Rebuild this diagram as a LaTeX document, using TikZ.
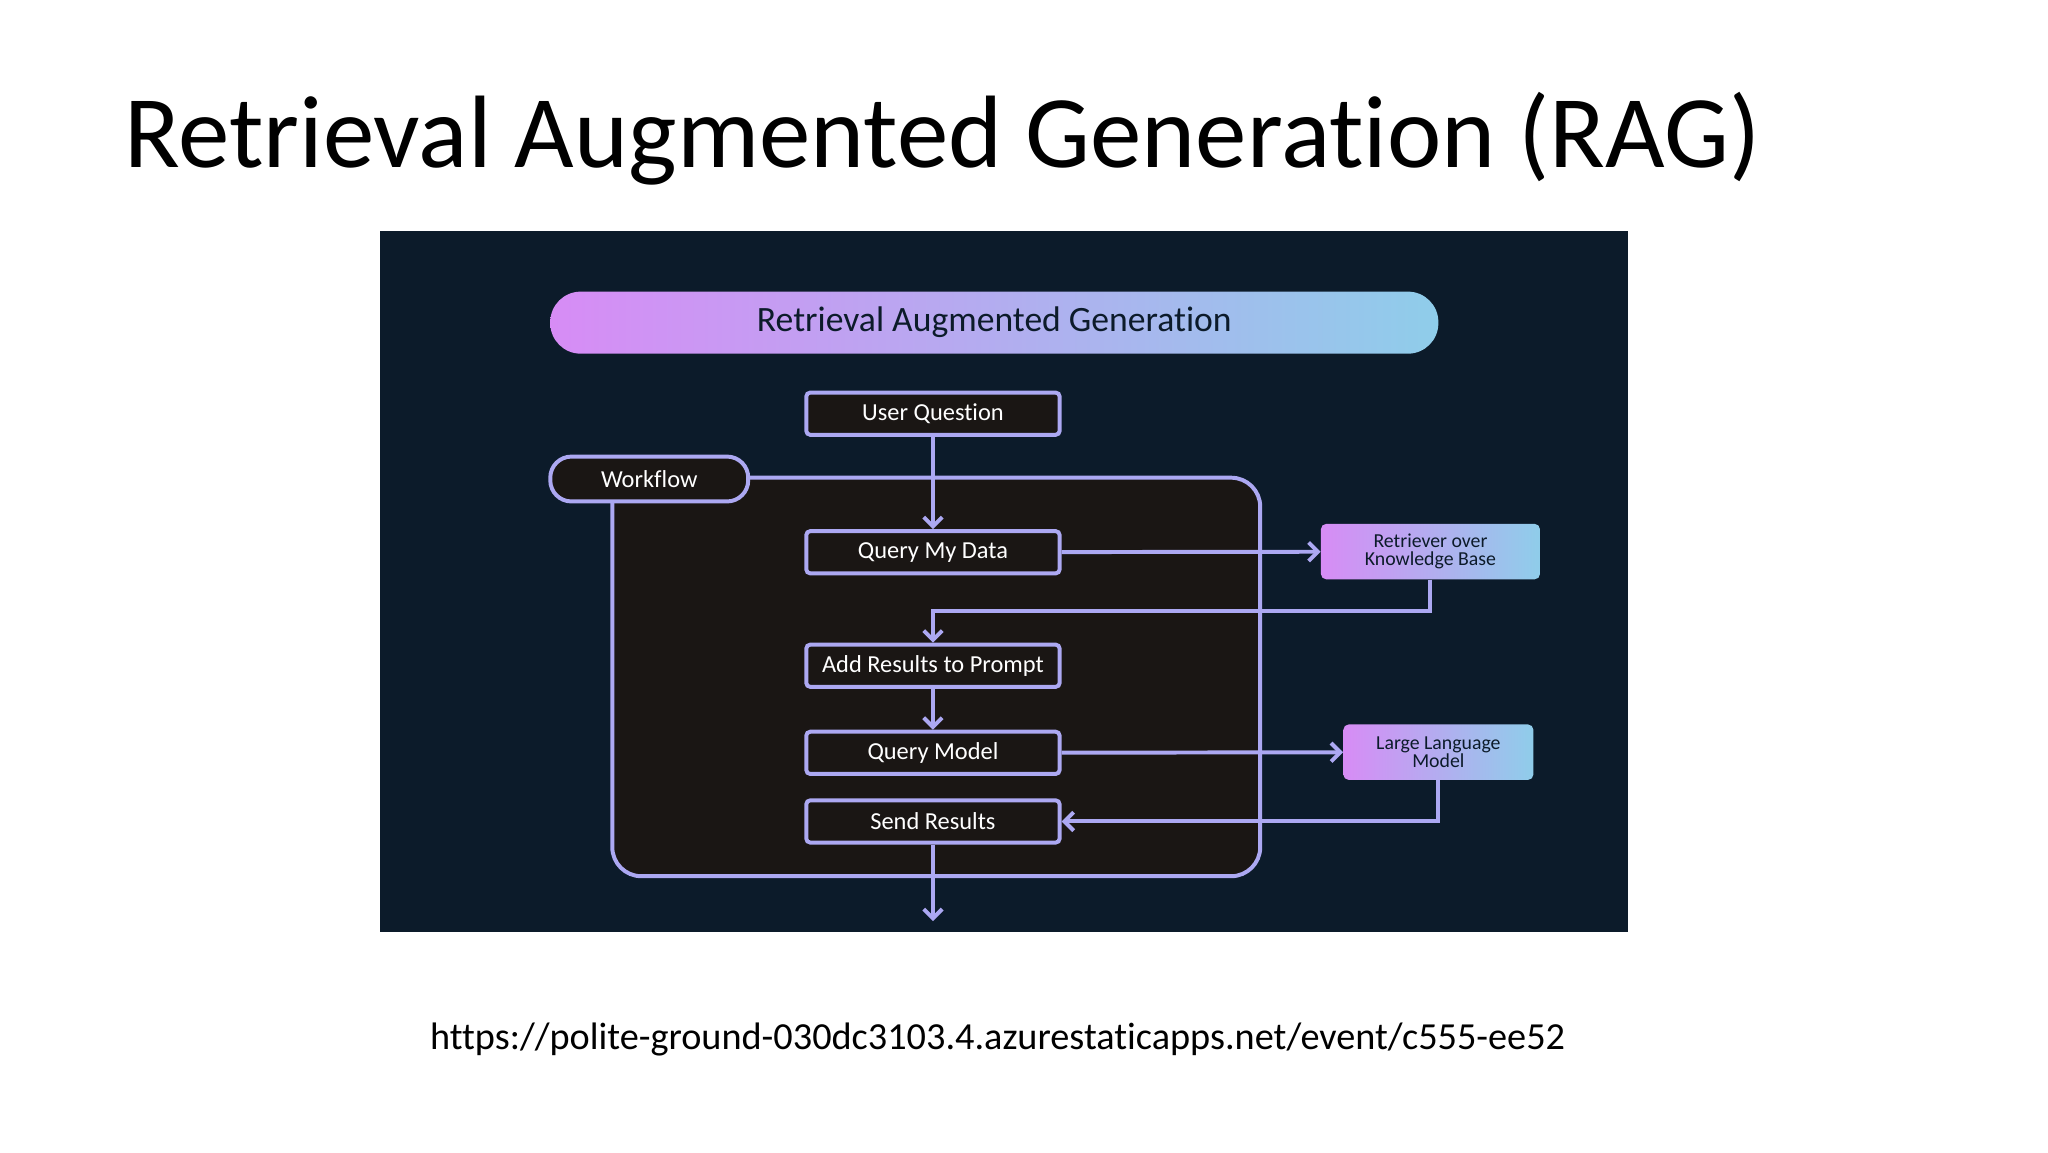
\documentclass[tikz,border=0pt]{standalone}
\usepackage{fontspec}
\setmainfont{Carlito}[Ligatures=CommonOff]
\usetikzlibrary{arrows.meta,shadings}
\definecolor{navy}{HTML}{0C1B2A}
\definecolor{inner}{HTML}{1A1614}
\definecolor{lav}{HTML}{ACA8F2}
\definecolor{vio}{HTML}{D78CF5}
\definecolor{sky}{HTML}{8FCDEA}
\begin{document}
\begin{tikzpicture}[x=1pt,y=-1pt,
  ln/.style={draw=lav,line width=3pt},
  arr/.style={ln,-{Straight Barb[length=7pt,width=14pt,line width=3pt]}},
  stepbox/.style={draw=lav,line width=3pt,fill=inner,rounded corners=3pt,minimum width=192pt,minimum height=32pt,text=white,font=\fontsize{18.5}{20}\selectfont,inner sep=0pt},
  gbox/.style={left color=vio,right color=sky,rounded corners=4pt,text=navy,font=\fontsize{15}{16}\selectfont,align=center,inner sep=0pt}]
\useasboundingbox (0,0) rectangle (1552,873);
\fill[white] (0,0) rectangle (1552,873);
\node[anchor=base west,inner sep=0pt,font=\fontsize{78}{88}\selectfont] (title) at (94,127) {Retrieval Augmented Generation (RAG)};
\fill[navy] (288,175) rectangle (1234,706);
\node[gbox,rounded corners=23pt,minimum width=673pt,minimum height=47pt,font=\fontsize{27}{28}\selectfont] (banner) at (753.5,244.5) {Retrieval Augmented Generation};
% workflow region
\fill[inner,rounded corners=22pt] (464,362) rectangle (955,664);
\draw[ln,rounded corners=22pt] (567,362) -- (955,362) -- (955,664) -- (464,664) -- (464,380);
\node[stepbox,minimum width=150pt,minimum height=34pt,rounded corners=16pt] (wf) at (492,363) {Workflow};
\node[stepbox] (uq) at (707,313.5) {User Question};
\node[stepbox] (qd) at (707,418.5) {Query My Data};
\node[stepbox] (ar) at (707,504.5) {Add Results to Prompt};
\node[stepbox] (qm) at (707,570.5) {Query Model};
\node[stepbox] (sr) at (707,622.5) {Send Results};
\node[gbox,minimum width=166pt,minimum height=42pt] (kb) at (1084,418) {Retriever over\\[-2pt]Knowledge Base};
\node[gbox,minimum width=144pt,minimum height=42pt] (llm) at (1090,570) {Large Language\\[-2pt]Model};
\coordinate (out) at (707,698);
\draw[arr] (uq) -- (qd);
\draw[arr] (qd) -- (kb);
\draw[arr] (kb.south) |- (707,463) -- (ar.north);
\draw[arr] (ar) -- (qm);
\draw[arr] (qm) -- (llm);
\draw[arr] (llm.south) |- (sr.east);
\draw[arr] (sr) -- (out);
\node[font=\fontsize{29}{30}\selectfont,inner sep=0pt] (url) at (756,788) {https://polite-ground-030dc3103.4.azurestaticapps.net/event/c555-ee52};
\end{tikzpicture}
\end{document}
